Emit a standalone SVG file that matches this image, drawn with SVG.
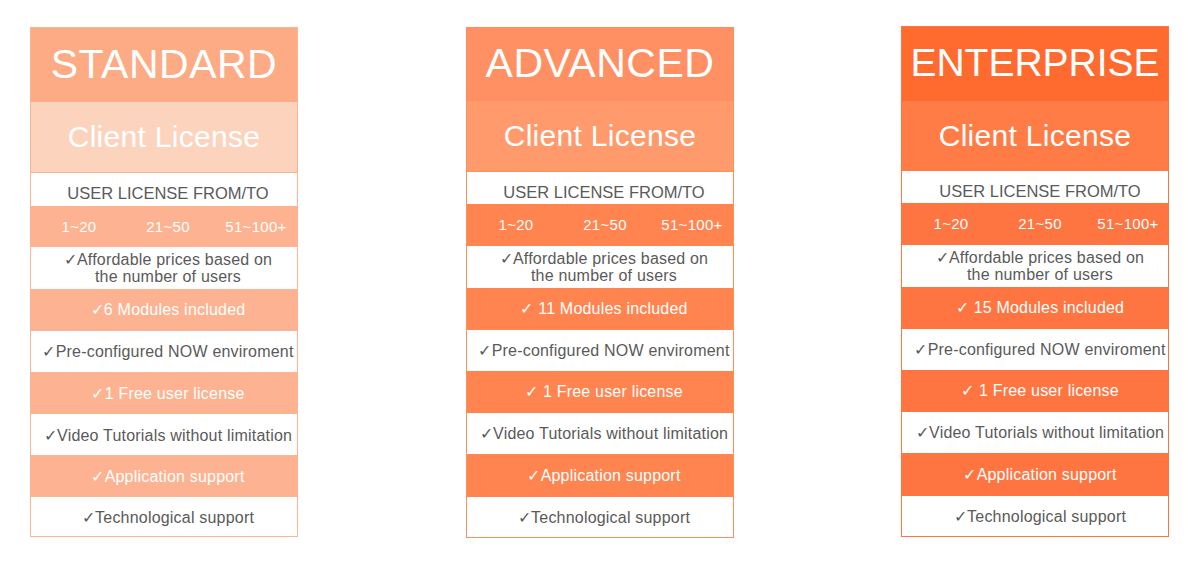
<svg xmlns="http://www.w3.org/2000/svg" width="1200" height="565" viewBox="0 0 1200 565">
<style>
text{font-family:"Liberation Sans",Arial,sans-serif;text-anchor:middle}
.h{font-size:41px;fill:#fff;letter-spacing:0.5px}
.c{font-size:30px;fill:#fff;letter-spacing:0.3px}
.u{font-size:16.5px;fill:#5a5a5a}
.n{font-size:15px;fill:#fff;letter-spacing:0.3px}
.d{font-size:16px;fill:#5a5a5a;letter-spacing:0.2px}
.o{font-size:16px;fill:#fff;letter-spacing:0.2px}
.w{fill:#fff}
</style>
<rect width="1200" height="565" fill="#fff"/>
<g id="standard">
<rect x="30" y="27" width="268" height="510" fill="#fdb391"/>
<rect x="31" y="28" width="266" height="74" fill="#fdab84"/>
<rect x="31" y="102" width="266" height="70" fill="#fcd4be"/>
<rect x="31" y="173" width="266" height="33" class="w"/>
<rect x="31" y="247" width="266" height="42" class="w"/>
<rect x="31" y="331" width="266" height="41" class="w"/>
<rect x="31" y="414" width="266" height="41" class="w"/>
<rect x="31" y="497" width="266" height="39" class="w"/>
<text x="164" y="78" class="h">STANDARD</text>
<text x="164" y="147" class="c">Client License</text>
<text x="168" y="199" class="u">USER LICENSE FROM/TO</text>
<text x="79" y="232" class="n">1~20</text><text x="168" y="232" class="n">21~50</text><text x="256" y="232" class="n">51~100+</text>
<text x="168" y="265" class="d">✓Affordable prices based on</text>
<text x="168" y="282" class="d">the number of users</text>
<text x="168" y="315" class="o">✓6 Modules included</text>
<text x="168" y="357" class="d">✓Pre-configured NOW enviroment</text>
<text x="168" y="399" class="o">✓1 Free user license</text>
<text x="168" y="441" class="d">✓Video Tutorials without limitation</text>
<text x="168" y="482" class="o">✓Application support</text>
<text x="168" y="523" class="d">✓Technological support</text>
</g>
<g id="advanced">
<rect x="466" y="27" width="268" height="511" fill="#ff8f5c"/>
<rect x="467" y="28" width="266" height="73" fill="#ff9063"/>
<rect x="467" y="101" width="266" height="70" fill="#ff9a6c"/>
<rect x="467" y="172" width="266" height="32" class="w"/>
<rect x="467" y="246" width="266" height="42" class="w"/>
<rect x="467" y="330" width="266" height="41" class="w"/>
<rect x="467" y="413" width="266" height="41" class="w"/>
<rect x="467" y="497" width="266" height="40" class="w"/>
<g fill="#ff8450"><rect x="467" y="204" width="266" height="42"/><rect x="467" y="288" width="266" height="42"/><rect x="467" y="371" width="266" height="42"/><rect x="467" y="454" width="266" height="43"/></g>
<text x="600" y="77" class="h">ADVANCED</text>
<text x="600" y="146" class="c">Client License</text>
<text x="604" y="198" class="u">USER LICENSE FROM/TO</text>
<text x="516" y="230" class="n">1~20</text><text x="605" y="230" class="n">21~50</text><text x="692" y="230" class="n">51~100+</text>
<text x="604" y="264" class="d">✓Affordable prices based on</text>
<text x="604" y="281" class="d">the number of users</text>
<text x="604" y="314" class="o">✓ 11 Modules included</text>
<text x="604" y="356" class="d">✓Pre-configured NOW enviroment</text>
<text x="604" y="397" class="o">✓ 1 Free user license</text>
<text x="604" y="439" class="d">✓Video Tutorials without limitation</text>
<text x="604" y="481" class="o">✓Application support</text>
<text x="604" y="523" class="d">✓Technological support</text>
</g>
<g id="enterprise">
<rect x="901" y="26" width="268" height="511" fill="#ff7542"/>
<rect x="902" y="27" width="266" height="74" fill="#ff6a2e"/>
<rect x="902" y="101" width="266" height="70" fill="#ff7c46"/>
<rect x="902" y="171" width="266" height="32" class="w"/>
<rect x="902" y="245" width="266" height="42" class="w"/>
<rect x="902" y="329" width="266" height="41" class="w"/>
<rect x="902" y="412" width="266" height="41" class="w"/>
<rect x="902" y="496" width="266" height="40" class="w"/>
<text x="1035" y="76" class="h" style="font-size:39px;letter-spacing:0">ENTERPRISE</text>
<text x="1035" y="146" class="c">Client License</text>
<text x="1040" y="197" class="u">USER LICENSE FROM/TO</text>
<text x="951" y="229" class="n">1~20</text><text x="1040" y="229" class="n">21~50</text><text x="1128" y="229" class="n">51~100+</text>
<text x="1040" y="263" class="d">✓Affordable prices based on</text>
<text x="1040" y="280" class="d">the number of users</text>
<text x="1040" y="313" class="o">✓ 15 Modules included</text>
<text x="1040" y="355" class="d">✓Pre-configured NOW enviroment</text>
<text x="1040" y="396" class="o">✓ 1 Free user license</text>
<text x="1040" y="438" class="d">✓Video Tutorials without limitation</text>
<text x="1040" y="480" class="o">✓Application support</text>
<text x="1040" y="522" class="d">✓Technological support</text>
</g>
<g id="connectors"/>
</svg>
